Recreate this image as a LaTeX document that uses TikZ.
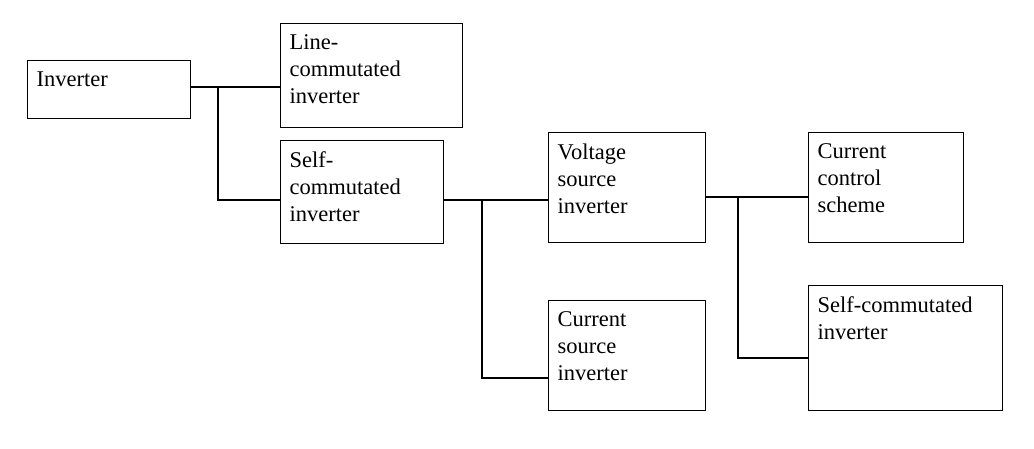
\documentclass[tikz,border=0pt]{standalone}
\usepackage{fontspec}
\setmainfont{Liberation Serif}
\begin{document}
\begin{tikzpicture}[x=1pt,y=-1pt,line width=1.4pt,
  box/.style={draw,minimum width=#1,anchor=north west,inner sep=0pt},
  txt/.style={anchor=north west,align=left,inner sep=0pt,font=\fontsize{22.5}{27}\selectfont}]
\useasboundingbox (0,0) rectangle (1034,449);
\newcommand\bx[6]{\node[box=#4-#2,minimum height=#5-#3] (#1) at (#2,#3) {};
  \node[txt] (#1t) at (#2+9,#3+11) {#6};}
\bx{inv}{27}{60}{190}{118}{Inverter}
\bx{lc}{280}{23}{462}{127}{Line-\\commutated\\inverter}
\bx{sc}{280}{140}{443}{243}{Self-\\commutated\\inverter}
\bx{vs}{548}{132}{705}{242}{Voltage\\source\\inverter}
\bx{cs}{548}{300}{705}{410}{Current\\source\\inverter}
\bx{cc}{808}{132}{963}{242}{Current\\control\\scheme}
\bx{sc2}{808}{285}{1002}{410}{Self-commutated\\inverter}
\draw (inv.east|-0,87) -- (218,87) coordinate (j1);
\draw (j1) -- (lc.west|-j1) (218,87) -- (218,200) -- (sc.west|-0,200);
\draw (sc.east|-0,200) -- (vs.west|-0,200) (482,200) -- (482,378) -- (cs.west|-0,378);
\draw (vs.east|-0,197) -- (cc.west|-0,197) (738,197) -- (738,358) -- (sc2.west|-0,358);
\end{tikzpicture}
\end{document}
